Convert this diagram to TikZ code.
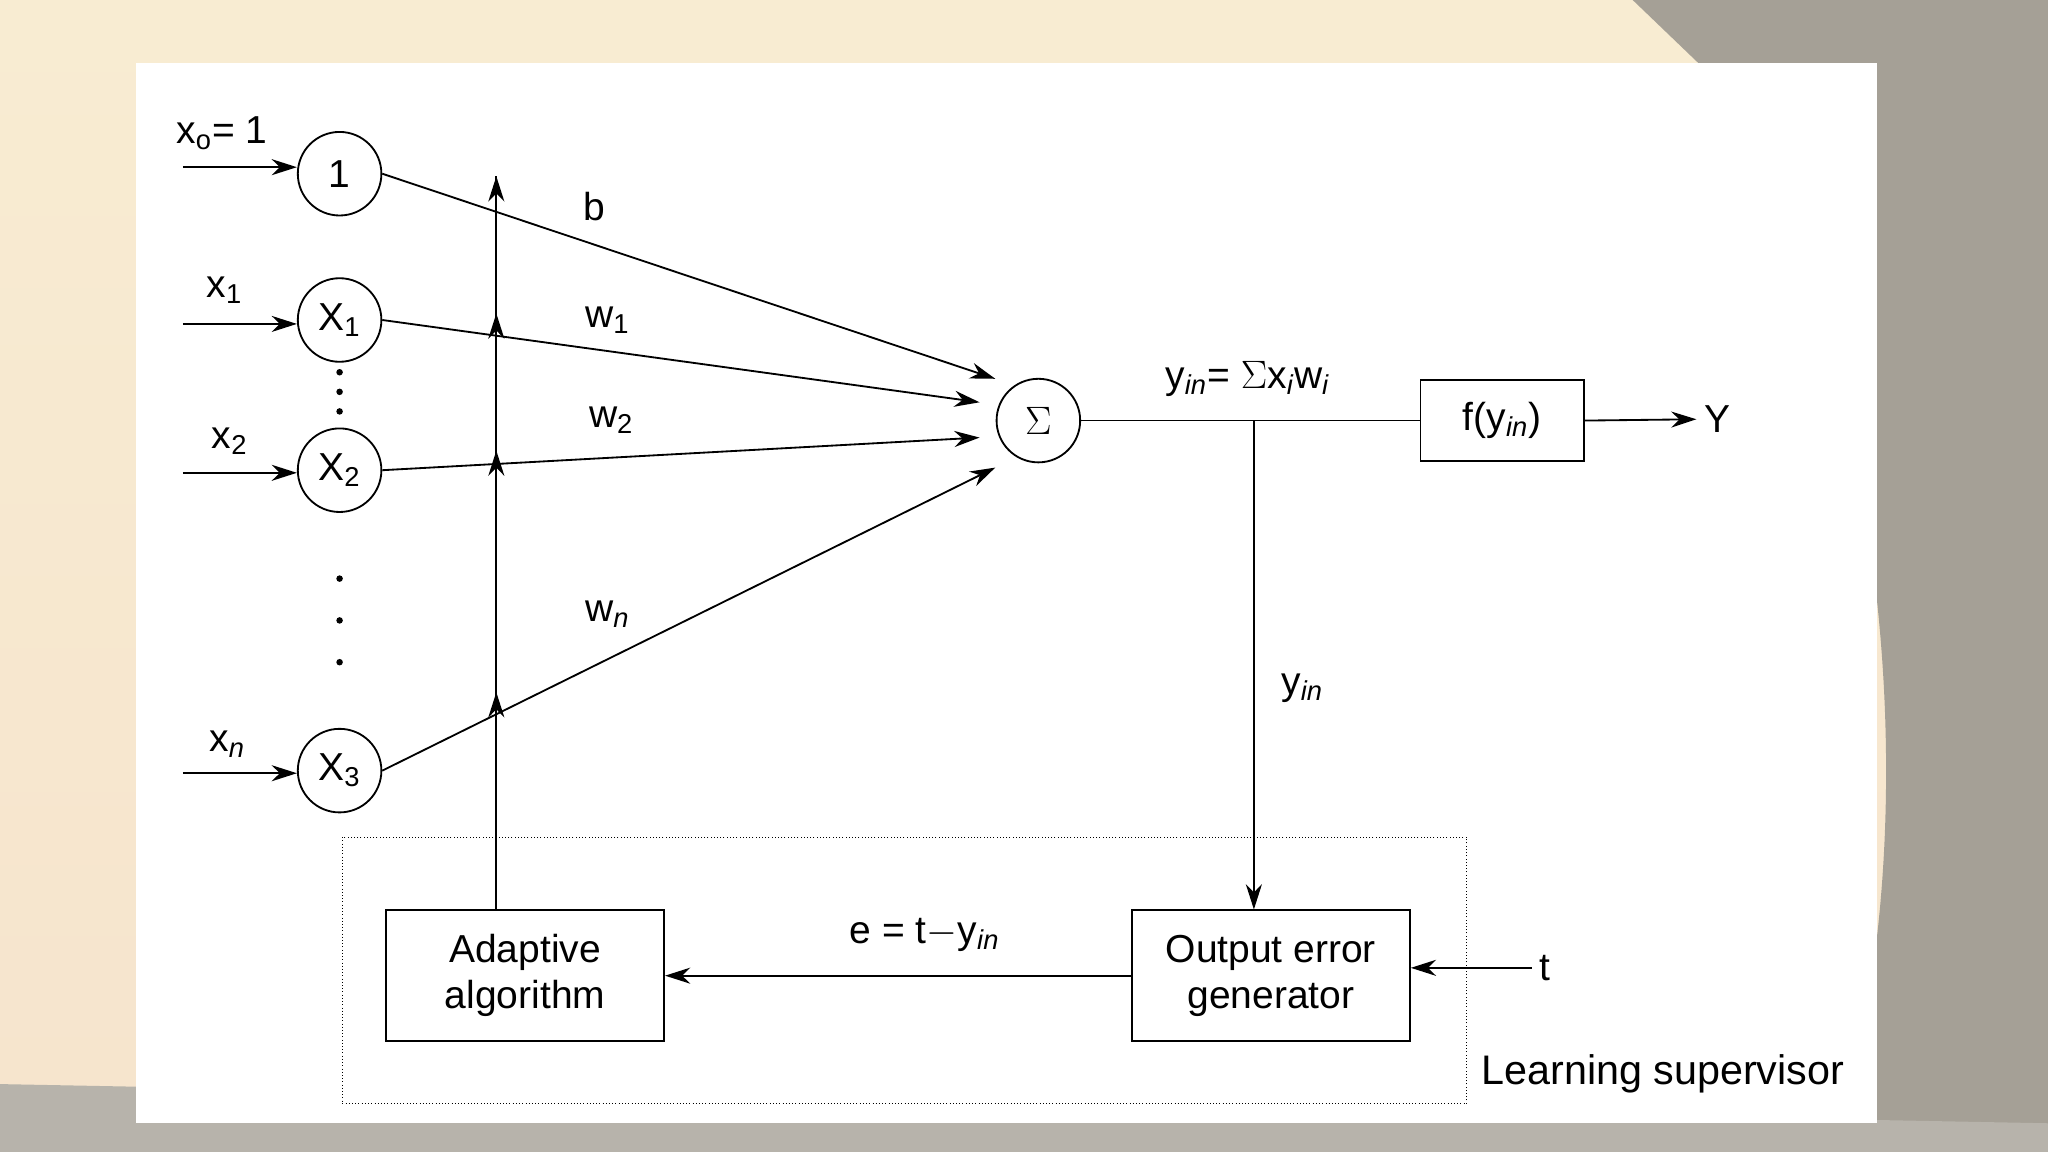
\documentclass[tikz,border=0pt]{standalone}
\usepackage{fontspec}
\setmainfont{Liberation Sans}
\usetikzlibrary{arrows.meta}
\definecolor{bgA}{RGB}{248,236,210}
\definecolor{bgB}{RGB}{246,228,205}
\definecolor{gr}{RGB}{165,160,150}
\newcommand{\sbs}[1]{\textsubscript{#1}}
\newcommand{\sbi}[1]{\textsubscript{\itshape #1}}
\begin{document}
\begin{tikzpicture}[x=0.02cm,y=-0.02cm,
  font=\fontsize{17}{20}\selectfont,
  neur/.style={draw,circle,minimum size=1.28cm,inner sep=0pt,thick},
  blk/.style={draw,thick,rectangle,align=center},
  arr/.style={-{Stealth[length=11pt,width=7pt]},thick},
  ln/.style={thick}]
\useasboundingbox (0,0) rectangle (1568,882);
\fill[top color=bgA,bottom color=bgB] (0,0) rectangle (1568,882);
\fill[gr] (1250,0) -- (1568,0) -- (1568,882) -- (1400,882) .. controls (1470,700) and (1470,300) .. (1300,48) -- cycle;
\fill[gr!80] (0,830) -- (1568,860) -- (1568,882) -- (0,882) -- cycle;
\fill[white] (104,48) rectangle (1437,860);
\node[neur] (n0) at (260,133) {1};
\node[neur] (n1) at (260,245) {X\sbs{1}};
\node[neur] (n2) at (260,360) {X\sbs{2}};
\node[neur] (n3) at (260,590) {X\sbs{3}};
\node[neur] (s) at (795,322) {$\Sigma$};
\node[blk,minimum width=2.5cm,minimum height=1.24cm] (f) at (1150,322) {f(y\sbi{in})};
\node (Y) at (1315,321) {Y};
\node[blk,minimum width=4.26cm,minimum height=2cm] (ad) at (402,747) {Adaptive\\algorithm};
\node[blk,minimum width=4.26cm,minimum height=2cm] (oe) at (973,747) {Output error\\generator};
\draw[densely dotted] (262,641) rectangle (1123,845);
\node[anchor=west,font=\fontsize{18}{20}\selectfont] (ls) at (1128,822) {Learning supervisor};
\node (t) at (1183,741) {t};
\coordinate (i0) at (140,128); \coordinate (i1) at (140,248);
\coordinate (i2) at (140,362); \coordinate (i3) at (140,592);
\foreach \k in {0,1,2,3} \draw[arr] (i\k) -- (i\k -| n\k.west);
\node (l0) at (170,102) {x\sbs{o}= 1};
\node (l1) at (172,222) {x\sbs{1}};
\node (l2) at (176,338) {x\sbs{2}};
\node (l3) at (174,570) {x\sbi{n}};
\coordinate (e0) at (762,290); \coordinate (e1) at (750,308);
\coordinate (e2) at (750,335); \coordinate (e3) at (762,358);
\foreach \k in {0,1,2,3} \draw[arr] (n\k.east) -- (e\k);
\node (b) at (455,158) {b};
\node (w1) at (465,245) {w\sbs{1}};
\node (w2) at (468,322) {w\sbs{2}};
\node (wn) at (465,470) {w\sbi{n}};
\coordinate (a0) at (380,135); \coordinate (a1) at (380,240);
\coordinate (a2) at (380,345); \coordinate (a3) at (380,530);
\draw[ln] (ad.north -| a0) -- (a0);
\foreach \k in {0,1,2,3} \draw[arr] ([yshift=-0.1cm]a\k) -- (a\k);
\coordinate (j) at (960,322);
\draw[ln] (s.east) -- (f.west);
\draw[arr] (f.east) -- (Y.west);
\draw[arr] (j) -- (j |- oe.north);
\node (yl) at (955,290) {y\sbi{in}= $\Sigma$x\sbi{i}w\sbi{i}};
\node (yv) at (997,527) {y\sbi{in}};
\draw[arr] (oe.west) -- (ad.east);
\node (el) at (708,716) {e = t$-$y\sbi{in}};
\draw[arr] (t.west) -- (t.west -| oe.east);
\foreach \y in {285,300,315,443,475,507} \fill (260,\y) circle (2.5);
\end{tikzpicture}
\end{document}
